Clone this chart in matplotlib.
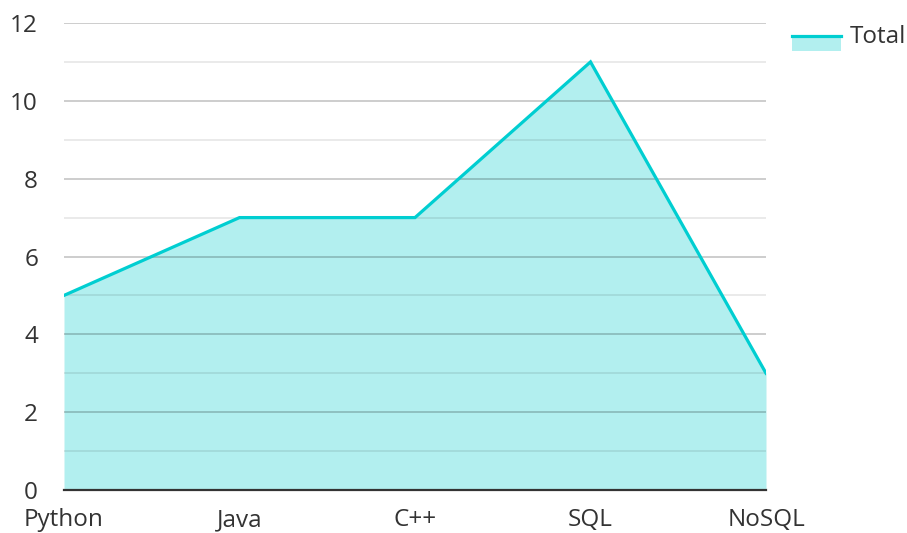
import matplotlib
matplotlib.use("Agg")
import matplotlib.pyplot as plt
from matplotlib.legend_handler import HandlerBase
from matplotlib.patches import Rectangle
from matplotlib.lines import Line2D

categories = ["Python", "Java", "C++", "SQL", "NoSQL"]
totals = [5, 7, 7, 11, 3]
series_name = "Total"
yticks = [0, 2, 4, 6, 8, 10, 12]

plt.rcParams['font.family'] = ['Open Sans', 'DejaVu Sans']

line_color = '#00CED1'
fill_color = '#B2EFEF'
FS = 17.5

fig = plt.figure(figsize=(9.07, 5.33), dpi=100)
ax = fig.add_axes([64/907, 1-490/533, (766-64)/907, (490-23)/533])
ax.set_axisbelow(False)

x = list(range(len(categories)))
ax.fill_between(x, totals, 0, color=fill_color, lw=0, zorder=2)
ax.plot(x, totals, color=line_color, lw=2.3, zorder=4, solid_joinstyle='miter')

ax.set_xlim(0, len(categories)-1)
ax.set_ylim(0, 12)
ax.set_yticks(yticks)
ax.set_yticks([1, 3, 5, 7, 9, 11], minor=True)
ax.set_xticks(x)
ax.set_xticklabels(categories)
ax.grid(True, which='major', axis='y', color='black', lw=1.3, alpha=0.21)
ax.grid(True, which='minor', axis='y', color='black', lw=1.3, alpha=0.09)
ax.tick_params(axis='both', which='both', length=0, labelsize=FS, labelcolor='#333333')
ax.tick_params(axis='y', pad=18.7)
ax.tick_params(axis='x', pad=13)
for s in ['top', 'right', 'left']:
    ax.spines[s].set_visible(False)
ax.spines['bottom'].set_color('#333333')
ax.spines['bottom'].set_linewidth(1.6)
ax.spines['bottom'].set_zorder(5)


class AreaHandler(HandlerBase):
    def create_artists(self, legend, orig_handle, xdescent, ydescent, width, height, fontsize, trans):
        y0 = -ydescent - 0.45*height
        h = 0.85*height
        r = Rectangle((-xdescent, y0), width, h,
                      facecolor=fill_color, edgecolor='none', transform=trans)
        l = Line2D([-xdescent, -xdescent + width], [y0 + h, y0 + h], color=line_color, lw=2.3, transform=trans)
        return [r, l]


h = Rectangle((0, 0), 1, 1)
leg = fig.legend([h], [series_name], handler_map={Rectangle: AreaHandler()},
                 loc='upper right', bbox_to_anchor=(906/907, 1-25/533), frameon=False,
                 fontsize=FS, handlelength=2.0, handletextpad=0.37,
                 borderaxespad=0, borderpad=0)
for t in leg.get_texts():
    t.set_color('#333333')

fig.savefig('out.png', dpi=100)
